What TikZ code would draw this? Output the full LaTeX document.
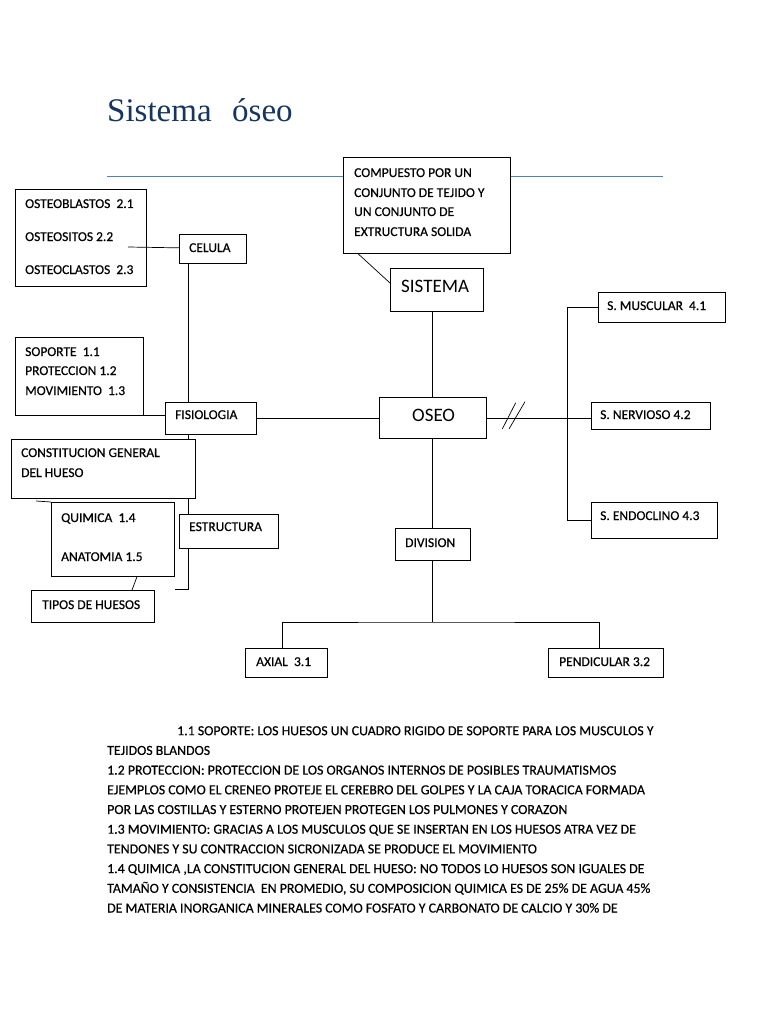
\documentclass[tikz,border=0pt]{standalone}
\usepackage{fontspec}
\setmainfont{Carlito}
\newfontfamily\titlefont{Liberation Serif}
\newfontfamily\smallfont[FakeBold=0.45]{Carlito}
\usetikzlibrary{calc}
\pgfdeclarelayer{paper}
\pgfdeclarelayer{background}
\pgfsetlayers{paper,background,main}
\definecolor{titleblue}{HTML}{17365D}
\definecolor{ruleblue}{HTML}{4F81BD}
\tikzset{
  bx/.style={draw, line width=0.7pt, inner sep=0pt, anchor=north west},
  wbx/.style={bx, fill=white},
  lbl/.style={anchor=base west, inner sep=0pt, font=\smallfont\fontsize{13.5}{16}\selectfont},
  big/.style={anchor=base west, inner sep=0pt, font=\fontsize{19}{22}\selectfont},
  body/.style={anchor=base west, inner sep=0pt, font=\smallfont\fontsize{13.85}{16}\selectfont},
  conn/.style={line width=0.7pt}
}
\newcommand\mybox[5]{\node[#1, minimum width=#4pt, minimum height=#5pt] (#2) at #3 {};}
\begin{document}
\begin{tikzpicture}[x=1pt,y=-1pt]
\useasboundingbox (0,0) rectangle (768,1024);
\begin{pgfonlayer}{paper}
\fill[white] (0,0) rectangle (768,1024);
\end{pgfonlayer}

% title
\node[anchor=base west, inner sep=0pt, text=titleblue, font=\titlefont\fontsize{33}{36}\selectfont] (title) at (107,122) {Sistema\ \hspace{4pt}\ óseo};

% boxes
\mybox{wbx}{comp}{(343,157)}{167}{96}
\mybox{bx}{sistema}{(390,268)}{93}{43}
\mybox{bx}{oseo}{(379,397)}{107}{41}
\mybox{bx}{division}{(395,528)}{75}{32}
\mybox{bx}{axial}{(245,648)}{82}{29}
\mybox{bx}{pendicular}{(548,648)}{115}{29}
\mybox{bx}{muscular}{(598,292)}{127}{30}
\mybox{bx}{nervioso}{(591,402)}{119}{27}
\mybox{bx}{endoclino}{(591,502)}{126}{36}
\mybox{bx}{osteo}{(15,189)}{131}{97}
\mybox{bx}{celula}{(179,234)}{67}{29}
\mybox{bx}{soporte}{(15,337)}{128}{78}
\mybox{wbx}{fisio}{(165,402)}{91}{32}
\mybox{wbx}{constitucion}{(11,439)}{184}{59}
\mybox{wbx}{quimica}{(51,502)}{123}{74}
\mybox{wbx}{estructura}{(179,514)}{99}{34}
\mybox{bx}{tipos}{(31,590)}{123}{32}

% box texts
\node[lbl] (comp1) at (354,177) {COMPUESTO POR UN};
\node[lbl] (comp2) at (354,197) {CONJUNTO DE TEJIDO Y};
\node[lbl] (comp3) at (354,216) {UN CONJUNTO DE};
\node[lbl] (comp4) at (354,236) {EXTRUCTURA SOLIDA};
\node[big] (sistemat) at (401,292) {SISTEMA};
\node[big] (oseot) at (412,421) {OSEO};
\node[lbl] (osteo1) at (25,208) {OSTEOBLASTOS\ \ 2.1};
\node[lbl] (osteo2) at (25,241) {OSTEOSITOS 2.2};
\node[lbl] (osteo3) at (25,274) {OSTEOCLASTOS\ \ 2.3};
\node[lbl] (celulat) at (189,252) {CELULA};
\node[lbl] (sop1) at (25,356) {SOPORTE\ \ 1.1};
\node[lbl] (sop2) at (25,375) {PROTECCION 1.2};
\node[lbl] (sop3) at (25,395) {MOVIMIENTO\ \ 1.3};
\node[lbl] (fisiot) at (175,419) {FISIOLOGIA};
\node[lbl] (const1) at (21,457) {CONSTITUCION GENERAL};
\node[lbl] (const2) at (21,477) {DEL HUESO};
\node[lbl] (quim1) at (61,522) {QUIMICA\ \ 1.4};
\node[lbl] (quim2) at (61,561) {ANATOMIA 1.5};
\node[lbl] (estrt) at (189,531) {ESTRUCTURA};
\node[lbl] (tipost) at (42,609) {TIPOS DE HUESOS};
\node[lbl] (musct) at (607,310) {S. MUSCULAR\ \ 4.1};
\node[lbl] (nervt) at (600,419) {S. NERVIOSO 4.2};
\node[lbl] (endot) at (600,520) {S. ENDOCLINO 4.3};
\node[lbl] (divt) at (405,547) {DIVISION};
\node[lbl] (axialt) at (256,666) {AXIAL\ \ 3.1};
\node[lbl] (pendt) at (559,666) {PENDICULAR 3.2};

% connectors
\coordinate (brx) at (567,0);
\coordinate (branch) at (432,622);
\begin{pgfonlayer}{background}
\draw[ruleblue, line width=0.8pt] (107,176) -- (663,176);
\draw[conn] ($(fisio.south west)+(23,0)$) -- ($(fisio.south west)+(23,155)$) coordinate (fq) -- (fq -| quimica.east);
\end{pgfonlayer}
\draw[conn] ($(comp.south west)+(15,0)$) -- ($(sistema.north west)+(0,15)$);
\draw[conn] (oseo.north -| branch) -- (sistema.south -| branch);
\draw[conn] (fisio.east) -- (fisio.east -| oseo.west);
\draw[conn] (oseo.east) -- (oseo.east -| nervioso.west);
\draw[conn] (502.3,429) -- (515.7,402.7);
\draw[conn] (509,429) -- (525,401.7);
\draw[conn] (muscular.west) -- (muscular.west -| brx) -- (endoclino.west -| brx) -- (endoclino.west);
\draw[conn] (division.north -| branch) -- (oseo.south -| branch);
\draw[conn] (division.south -| branch) -- (branch);
\draw[conn] ($(axial.north)+(-4,0)$) |- (branch) -| ($(pendicular.north)+(-7,0)$);
\draw[conn] ($(osteo.north west)+(113,58)$) -- ($(celula.west)+(0,-1)$);
\draw[conn] ($(celula.south west)+(9,0)$) -- ($(fisio.north west)+(23,0)$);
\draw[conn] (soporte.south east) -- (soporte.south east -| fisio.west);
\draw[conn] (quimica.north west) -- ++(-15,-1);
\draw[conn] ($(quimica.south west)+(86,0)$) -- ($(tipos.north west)+(101,0)$);

% body text
\node[body] (t0) at (177,735.2) {1.1 SOPORTE: LOS HUESOS UN CUADRO RIGIDO DE SOPORTE PARA LOS MUSCULOS Y};
\node[body] (t1) at (107,754.9) {TEJIDOS BLANDOS};
\node[body] (t2) at (107,774.6) {1.2 PROTECCION: PROTECCION DE LOS ORGANOS INTERNOS DE POSIBLES TRAUMATISMOS};
\node[body] (t3) at (107,794.3) {EJEMPLOS COMO EL CRENEO PROTEJE EL CEREBRO DEL GOLPES Y LA CAJA TORACICA FORMADA};
\node[body] (t4) at (107,814.0) {POR LAS COSTILLAS Y ESTERNO PROTEJEN PROTEGEN LOS PULMONES Y CORAZON};
\node[body] (t5) at (107,833.7) {1.3 MOVIMIENTO: GRACIAS A LOS MUSCULOS QUE SE INSERTAN EN LOS HUESOS ATRA VEZ DE};
\node[body] (t6) at (107,853.4) {TENDONES Y SU CONTRACCION SICRONIZADA SE PRODUCE EL MOVIMIENTO};
\node[body] (t7) at (107,873.1) {1.4 QUIMICA ,LA CONSTITUCION GENERAL DEL HUESO: NO TODOS LO HUESOS SON IGUALES DE};
\node[body] (t8) at (107,892.8) {TAMAÑO Y CONSISTENCIA\ \ EN PROMEDIO, SU COMPOSICION QUIMICA ES DE 25\% DE AGUA 45\%};
\node[body] (t9) at (107,912.5) {DE MATERIA INORGANICA MINERALES COMO FOSFATO Y CARBONATO DE CALCIO Y 30\% DE};
\end{tikzpicture}
\end{document}
